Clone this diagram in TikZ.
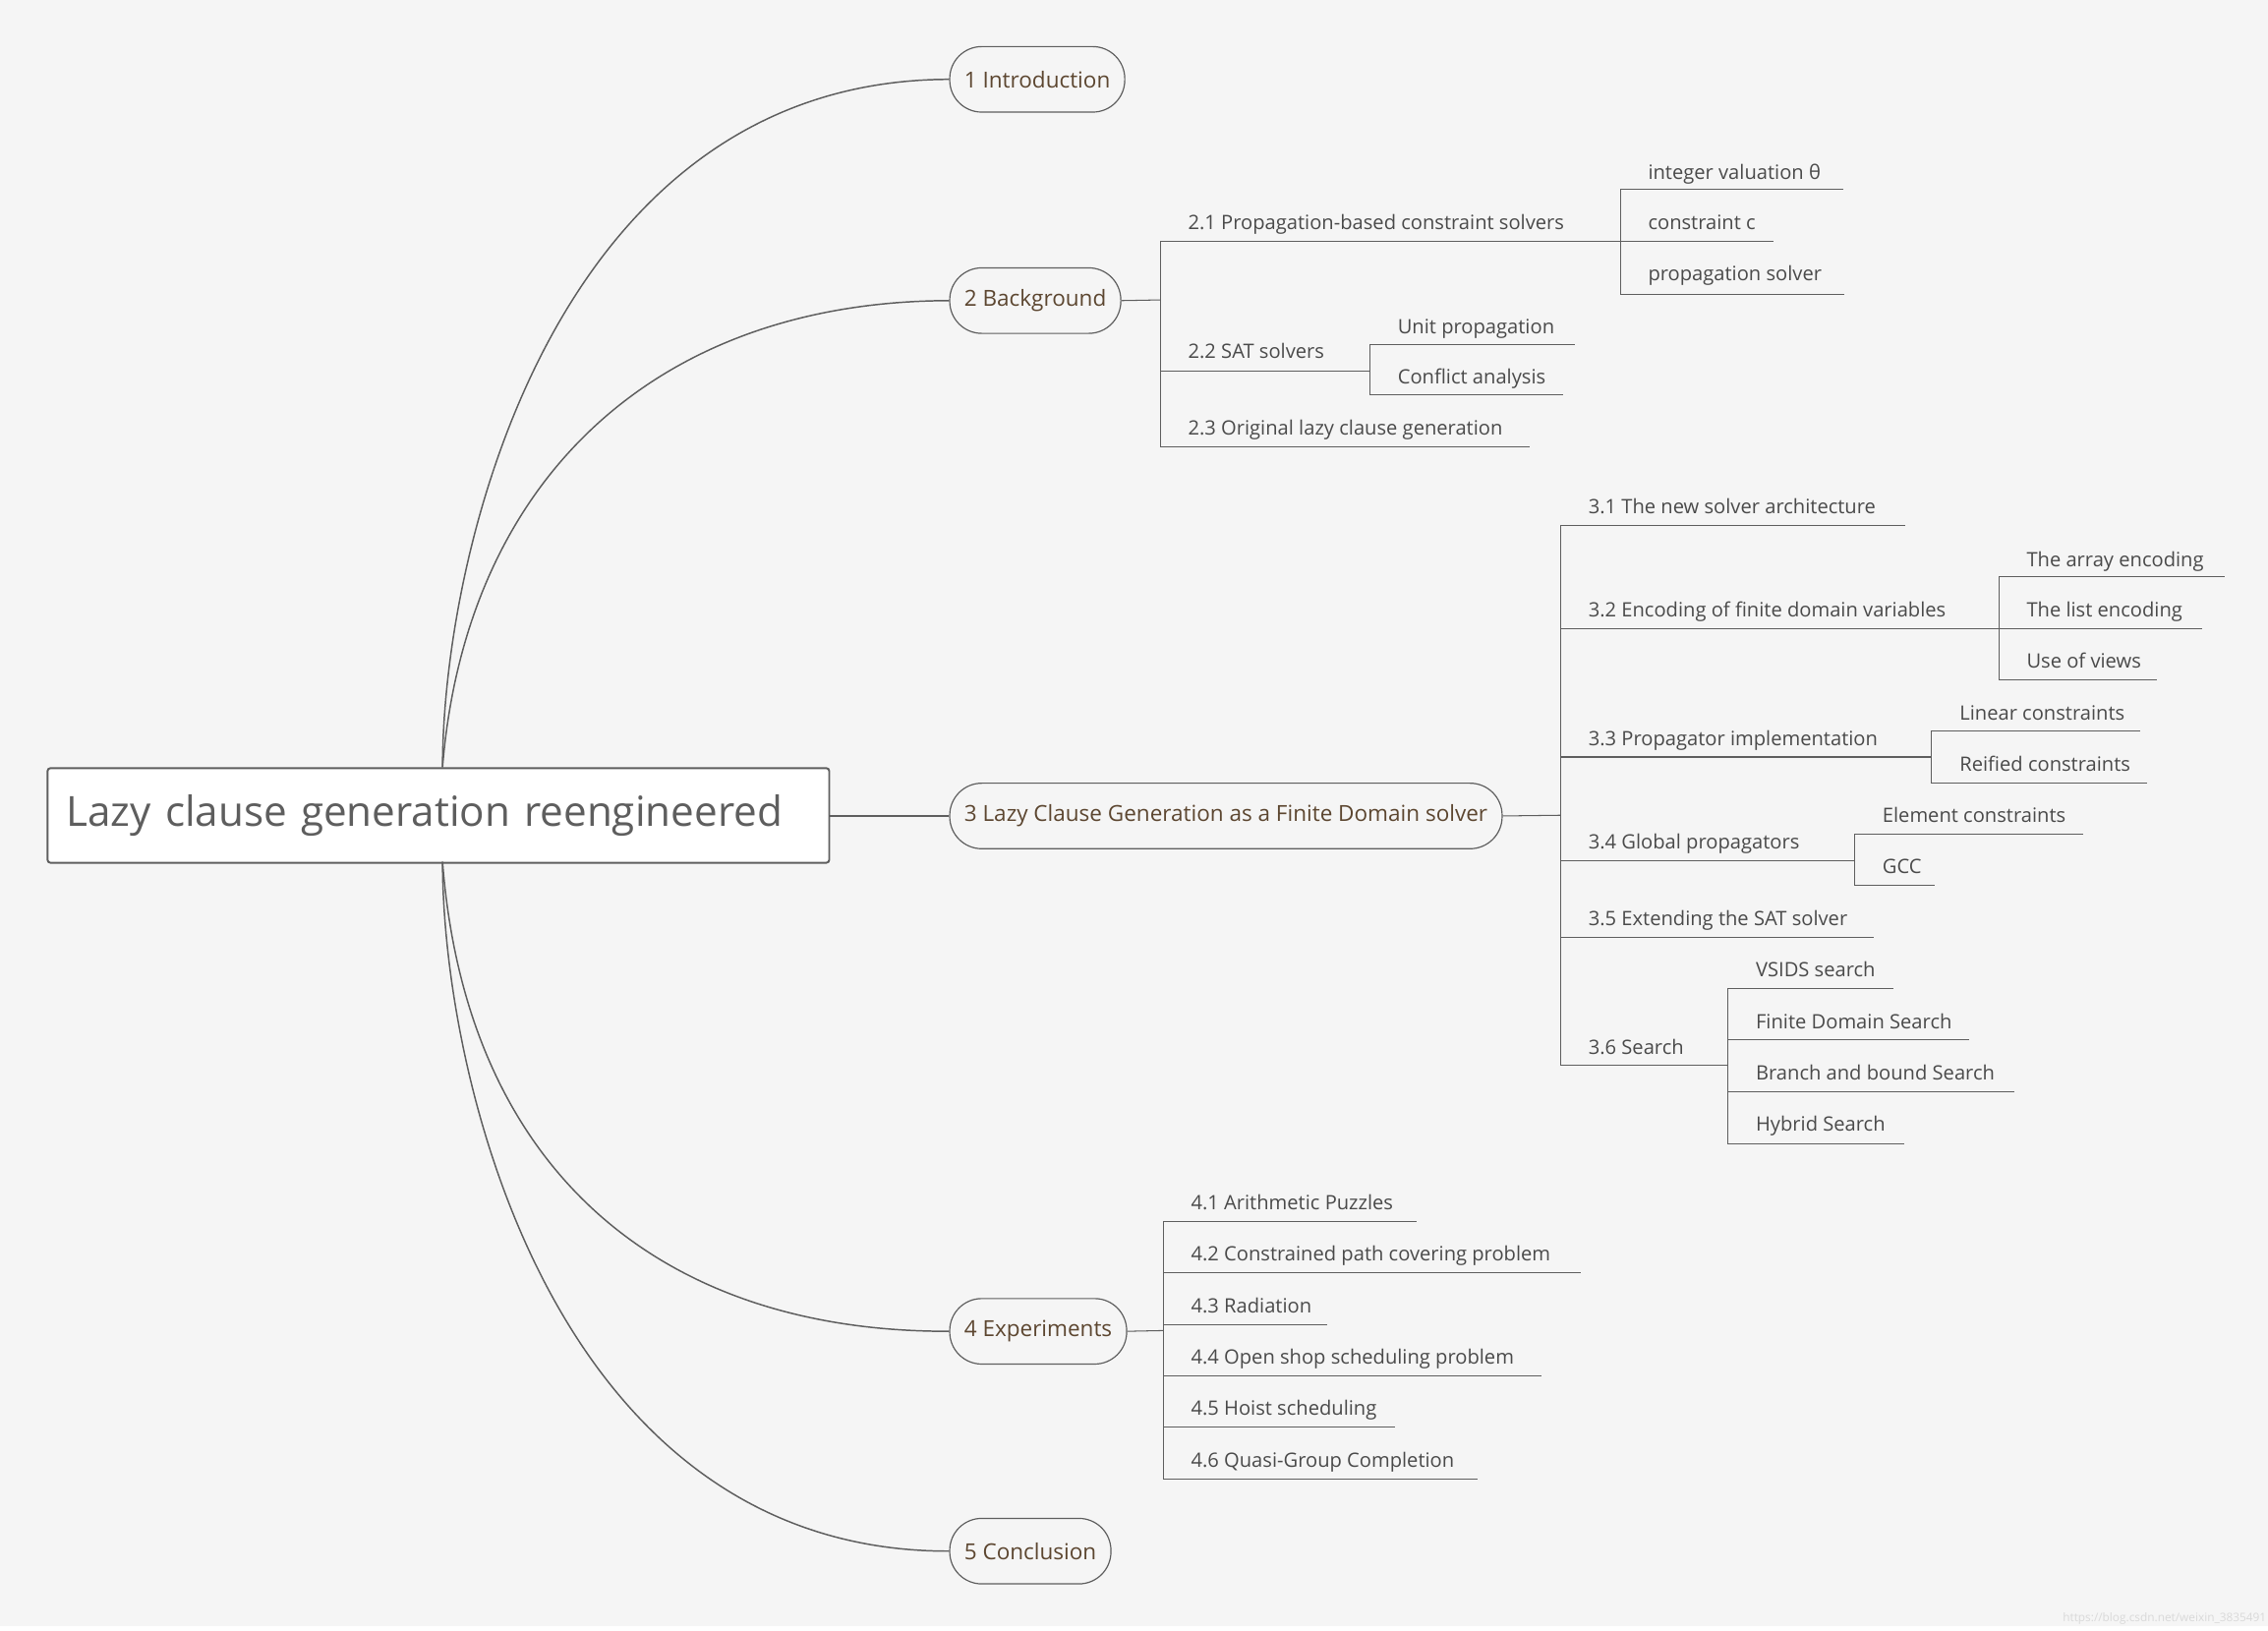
\documentclass[tikz,border=0pt]{standalone}
\usepackage{fontspec}
\setmainfont{Open Sans}
\definecolor{bg}{HTML}{F5F5F5}
\definecolor{ln}{HTML}{5E5E5E}
\definecolor{br}{HTML}{5C4630}
\definecolor{tx}{HTML}{4A4A4A}
\tikzset{
 pill/.style={draw=ln,line width=0.8pt,rounded corners=22pt,fill=bg,text=br,font=\fontsize{15.2}{17}\selectfont,inner xsep=10pt,anchor=west,minimum height=45pt},
 subt/.style={anchor=base west,text=tx,font=\fontsize{13.6}{15}\selectfont,inner sep=0pt},
 conn/.style={draw=ln,line width=1pt},
 thin/.style={draw=ln,line width=0.7pt}
}
\newcommand{\mmitem}[6]{% name, spinex, texty, uly, ulend, text
 \node[subt] (#1) at (#2+19,#3+5) {#6};
 \draw[thin] (#2,#4) -- (#5,#4);
}
\begin{document}
\begin{tikzpicture}[x=1pt,y=-1pt]
\fill[white] (0,0) rectangle (1558,1120);
\fill[bg] (0,0) rectangle (1558,1117);
\useasboundingbox (0,0) rectangle (1558,1120);
% root
\node[draw=ln,line width=1.3pt,rounded corners=2pt,fill=white,minimum width=537pt,minimum height=65pt,anchor=north west,text=ln,font=\fontsize{28.5}{32}\selectfont,inner xsep=13pt,text width=511pt,align=left] (root) at (32,527) {Lazy clause generation reengineered};
\coordinate (rt) at (304,527);
\coordinate (rb) at (304,592);
% main nodes
\node[pill] (n1) at (652,54.5) {1 Introduction};
\node[pill] (n2) at (652,206.5) {2 Background};
\node[pill] (n3) at (652,560.5) {3 Lazy Clause Generation as a Finite Domain solver};
\node[pill] (n4) at (652,914.5) {4 Experiments};
\node[pill] (n5) at (652,1065.5) {5 Conclusion};
\draw[conn] (rt) .. controls (304,380) and (380,55) .. (n1.west);
\draw[conn] (rt) .. controls (320,330) and (450,207) .. (n2.west);
\draw[conn] (root.east|-n3.west) -- (n3.west);
\draw[conn] (rb) .. controls (320,800) and (450,915) .. (n4.west);
\draw[conn] (rb) .. controls (304,740) and (380,1066) .. (n5.west);
% background
\draw[thin] (n2.east) -- (797,206);
\draw[thin] (797,166) -- (797,307);
\mmitem{a21}{797}{153}{166}{1113}{2.1 Propagation-based constraint solvers}
\draw[thin] (1113,130) -- (1113,202);
\mmitem{a211}{1113}{118}{130}{1266}{integer valuation θ}
\mmitem{a212}{1113}{153}{166}{1218}{constraint c}
\mmitem{a213}{1113}{188}{202}{1267}{propagation solver}
\mmitem{a22}{797}{241}{255}{941}{2.2 SAT solvers}
\draw[thin] (941,237) -- (941,271);
\mmitem{a221}{941}{224}{237}{1082}{Unit propagation}
\mmitem{a222}{941}{259}{271}{1074}{Conflict analysis}
\mmitem{a23}{797}{294}{307}{1051}{2.3 Original lazy clause generation}
% section 3
\draw[thin] (n3.east) -- (1072,560);
\draw[thin] (1072,361) -- (1072,732);
\mmitem{b31}{1072}{348}{361}{1309}{3.1 The new solver architecture}
\mmitem{b32}{1072}{419}{432}{1373}{3.2 Encoding of finite domain variables}
\draw[thin] (1373,396) -- (1373,467);
\mmitem{b321}{1373}{384}{396}{1528}{The array encoding}
\mmitem{b322}{1373}{419}{432}{1513}{The list encoding}
\mmitem{b323}{1373}{454}{467}{1482}{Use of views}
\mmitem{b33}{1072}{507}{520}{1327}{3.3 Propagator implementation}
\draw[thin] (1327,502) -- (1327,538);
\mmitem{b331}{1327}{490}{502}{1470}{Linear constraints}
\mmitem{b332}{1327}{525}{538}{1475}{Reified constraints}
\mmitem{b34}{1072}{578}{591}{1274}{3.4 Global propagators}
\draw[thin] (1274,573) -- (1274,608);
\mmitem{b341}{1274}{560}{573}{1431}{Element constraints}
\mmitem{b342}{1274}{595}{608}{1329}{GCC}
\mmitem{b35}{1072}{631}{644}{1287}{3.5 Extending the SAT solver}
\mmitem{b36}{1072}{719}{732}{1187}{3.6 Search}
\draw[thin] (1187,679) -- (1187,786);
\mmitem{b361}{1187}{666}{679}{1301}{VSIDS search}
\mmitem{b362}{1187}{702}{714}{1353}{Finite Domain Search}
\mmitem{b363}{1187}{737}{750}{1384}{Branch and bound Search}
\mmitem{b364}{1187}{772}{786}{1308}{Hybrid Search}
% experiments
\draw[thin] (n4.east) -- (799,914);
\draw[thin] (799,839) -- (799,1016);
\mmitem{c41}{799}{826}{839}{973}{4.1 Arithmetic Puzzles}
\mmitem{c42}{799}{861}{874}{1086}{4.2 Constrained path covering problem}
\mmitem{c43}{799}{897}{910}{912}{4.3 Radiation}
\mmitem{c44}{799}{932}{945}{1059}{4.4 Open shop scheduling problem}
\mmitem{c45}{799}{967}{980}{958}{4.5 Hoist scheduling}
\mmitem{c46}{799}{1003}{1016}{1015}{4.6 Quasi-Group Completion}
\node[anchor=east,text=black!15,font=\fontsize{8}{9}\selectfont,inner sep=1pt] (wm) at (1558,1112) {https://blog.csdn.net/weixin\_3835491};
\end{tikzpicture}
\end{document}
